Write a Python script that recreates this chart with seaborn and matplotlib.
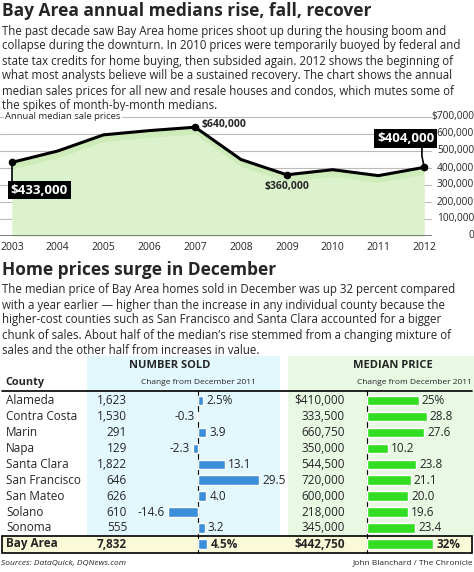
import numpy as np
import pandas as pd
import seaborn as sns
import matplotlib.pyplot as plt
import matplotlib.transforms as mtransforms

years = [2003, 2004, 2005, 2006, 2007, 2008, 2009, 2010, 2011, 2012]
prices = [433000, 500000, 595000, 620000, 640000, 450000, 360000, 390000, 355000, 404000]

counties = ['Alameda', 'Contra Costa', 'Marin', 'Napa', 'Santa Clara', 'San Francisco',
            'San Mateo', 'Solano', 'Sonoma', 'Bay Area']
sold = ['1,623', '1,530', '291', '129', '1,822', '646', '626', '610', '555', '7,832']
sold_chg = [2.5, -0.3, 3.9, -2.3, 13.1, 29.5, 4.0, -14.6, 3.2, 4.5]
sold_lbl = ['2.5%', '-0.3', '3.9', '-2.3', '13.1', '29.5', '4.0', '-14.6', '3.2', '4.5%']
med = ['$410,000', '333,500', '660,750', '350,000', '544,500', '720,000', '600,000',
       '218,000', '345,000', '$442,750']
med_chg = [25, 28.8, 27.6, 10.2, 23.8, 21.1, 20.0, 19.6, 23.4, 32]
med_lbl = ['25%', '28.8', '27.6', '10.2', '23.8', '21.1', '20.0', '19.6', '23.4', '32%']

sns.set_style('white')
plt.rcParams['font.family'] = ['Open Sans', 'DejaVu Sans']

fig = plt.figure(figsize=(4.74, 5.72), dpi=100)
W, H = 474, 572

# overlay axes in pixel coordinates for text and table
ov = fig.add_axes([0, 0, 1, 1])
ov.set_xlim(0, W)
ov.set_ylim(H, 0)
ov.axis('off')

ov.text(2, 11, 'Bay Area annual medians rise, fall, recover', fontsize=12.5,
        fontweight='bold', va='center')
body1 = ['The past decade saw Bay Area home prices shoot up during the housing boom and',
         'collapse during the downturn. In 2010 prices were temporarily buoyed by federal and',
         'state tax credits for home buying, then subsided again. 2012 shows the beginning of',
         'what most analysts believe will be a sustained recovery. The chart shows the annual',
         'median sales prices for all new and resale houses and condos, which mutes some of',
         'the spikes of month-by-month medians.']
for i, t in enumerate(body1):
    ov.text(2, 31 + i * 15, t, fontsize=8.3, va='center')

ov.text(2, 270, 'Home prices surge in December', fontsize=12.5, fontweight='bold', va='center')
body2 = ['The median price of Bay Area homes sold in December was up 32 percent compared',
         'with a year earlier \u2014 higher than the increase in any individual county because the',
         'higher-cost counties such as San Francisco and Santa Clara accounted for a bigger',
         'chunk of sales. About half of the median\u2019s rise stemmed from a changing mixture of',
         'sales and the other half from increases in value.']
for i, t in enumerate(body2):
    ov.text(2, 290 + i * 15, t, fontsize=8.3, va='center')

# line chart
ax = fig.add_axes([0, (H - 236) / H, 432 / W, 122.4 / H])
ax.set_xlim(2002.74, 2012.17)
ax.set_ylim(0, 720000)
ax.fill_between(years, prices, color='#dcf2cc', lw=0)
ax.fill_between(years, prices, [p - 40000 for p in prices], color='#c4e8ad', lw=0, alpha=0.6)
sns.lineplot(x=years, y=prices, ax=ax, color='black', lw=2.2)
for y, p in zip(years, prices):
    if y in (2003, 2007, 2009, 2012):
        ax.plot(y, p, 'o', color='black', ms=4.5)
for v in range(100000, 800000, 100000):
    ax.axhline(v, color='#bbbbbb', lw=0.8, zorder=0)
ax.axhline(0, color='#666666', lw=1.2)
ax.set_yticks([])
ax.set_xticks(years)
ax.set_xticklabels([str(y) for y in years], fontsize=7.5)
ax.tick_params(axis='x', length=0, pad=4)
sns.despine(ax=ax, left=True, bottom=True)
ax.patch.set_alpha(0)
trans = mtransforms.blended_transform_factory(fig.transFigure, ax.transData)
for v in range(0, 800000, 100000):
    lab = '$700,000' if v == 700000 else ('0' if v == 0 else f'{v:,}')
    ax.text(1.0, v, lab, transform=trans, ha='right', va='center', fontsize=7.3,
            clip_on=False)
ax.text(2002.85, 700000, 'Annual median sale prices', fontsize=6.8, va='center',
        bbox=dict(fc='white', ec='none', pad=1))
ax.plot([2003, 2003], [433000, 300000], color='black', lw=1.2)
ax.text(2003.6, 270000, '$433,000', fontsize=9.5, fontweight='bold', color='white',
        ha='center', va='center', bbox=dict(fc='black', ec='none', pad=2))
ax.plot([2012, 2011.95, 2011.95], [404000, 470000, 560000], color='black', lw=1.2)
ax.text(2011.6, 575000, '$404,000', fontsize=9.5, fontweight='bold', color='white',
        ha='center', va='center', bbox=dict(fc='black', ec='none', pad=2))
ax.text(2007.15, 655000, '$640,000', fontsize=7.5, fontweight='bold', va='center')
ax.text(2009.0, 290000, '$360,000', fontsize=7.5, fontweight='bold', va='center', ha='center')

# table
ov.add_patch(plt.Rectangle((87, 356), 193, 180, fc='#e3f8fc', ec='none', zorder=0))
ov.add_patch(plt.Rectangle((288, 356), 186, 180, fc='#e9f8e3', ec='none', zorder=0))
ov.add_patch(plt.Rectangle((2, 536), 470, 17, fc='#fbfad8', ec='black', lw=1.2, zorder=0))
ov.text(170, 365.5, 'NUMBER SOLD', fontsize=8, fontweight='bold', ha='center', va='center')
ov.text(393, 365.5, 'MEDIAN PRICE', fontsize=8, fontweight='bold', ha='center', va='center')
ov.text(5, 382, 'County', fontsize=7.8, fontweight='bold', va='center')
ov.text(198, 383, 'Change from December 2011', fontsize=6, ha='center', va='center')
ov.text(414, 383, 'Change from December 2011', fontsize=6, ha='center', va='center')
ov.plot([2, 472], [391, 391], color='black', lw=1.2)
ov.plot([198, 198], [391, 553], color='black', lw=0.8)
ov.plot([367, 367], [391, 553], color='black', lw=0.8)

rows = [400.7 + i * 15.9 for i in range(9)] + [544]
scale = 2.07
ov.barh(rows, [c * scale for c in sold_chg], left=198, height=9.5, color='#3b8fd9', zorder=2)
ov.barh(rows, [c * scale for c in med_chg], left=367, height=9.5, color='#33dd22', zorder=2)
for i, r in enumerate(rows):
    bold = 'bold' if i == 9 else 'normal'
    ov.text(6, r, counties[i], fontsize=8.5, va='center', fontweight=bold)
    ov.text(127, r, sold[i], fontsize=8.5, va='center', ha='right', fontweight=bold)
    end = 198 + sold_chg[i] * scale
    if sold_chg[i] < 0:
        ov.text(end - 3, r, sold_lbl[i], fontsize=8.5, va='center', ha='right')
    else:
        ov.text(end + 3, r, sold_lbl[i], fontsize=8.5, va='center', fontweight=bold)
    ov.text(345, r, med[i], fontsize=8.5, va='center', ha='right', fontweight=bold)
    ov.text(367 + med_chg[i] * scale + 3, r, med_lbl[i], fontsize=8.5, va='center',
            fontweight=bold)

ov.text(1, 563, 'Sources: DataQuick, DQNews.com', fontsize=6, style='italic', va='center')
ov.text(473, 563, 'John Blanchard / The Chronicle', fontsize=6, ha='right', va='center')

fig.savefig('out.png', dpi=100)
